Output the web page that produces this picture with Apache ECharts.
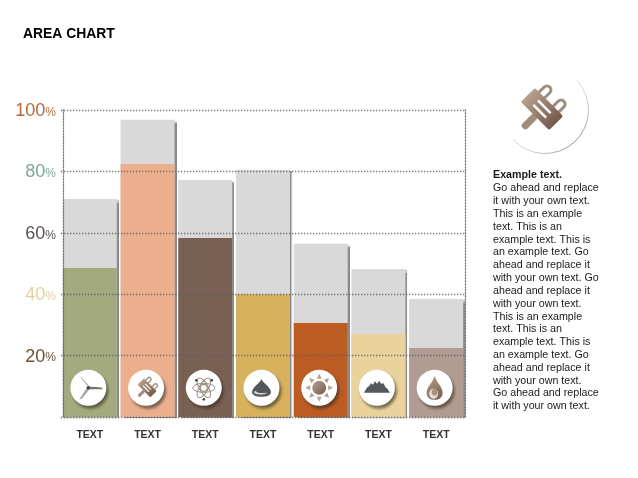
<!DOCTYPE html>
<html>
<head>
<meta charset="utf-8">
<style>
  html, body { margin: 0; padding: 0; background: #fff; }
  #chart { width: 638px; height: 478px; }
</style>
<script src="https://cdn.jsdelivr.net/npm/echarts@6/dist/echarts.min.js"></script>
</head>
<body>
<div id="chart"></div>
<script>
// chart data
const categories = ['TEXT', 'TEXT', 'TEXT', 'TEXT', 'TEXT', 'TEXT', 'TEXT'];
const totalValues = [71, 96.8, 77.2, 80.5, 56.4, 48.2, 38.4];
const filledValues = [48.5, 82.4, 58.3, 40, 30.6, 27, 22.5];
const iconLevels = [9.5, 9.5, 9.5, 9.5, 9.5, 9.5, 9.5];
const iconNames = ['wind', 'plug', 'atom', 'oil', 'sun', 'mountain', 'drop'];
const yTicks = [20, 40, 60, 80, 100];
const titleText = 'AREA CHART';
const noteHead = 'Example text.';
const noteLines = [
  'Go ahead and replace', 'it with your own text.', 'This is an example',
  'text. This is an', 'example text. This is', 'an example text. Go',
  'ahead and replace it', 'with your own text. Go', 'ahead and replace it',
  'with your own text.', 'This is an example', 'text. This is an',
  'example text. This is', 'an example text. Go', 'ahead and replace it',
  'with your own text.', 'Go ahead and replace', 'it with your own text.'
];

// colours
const barColors = ['#A3AA7E', '#EBAF8E', '#7A5F53', '#D8B15E', '#BC5B22', '#E9D29C', '#B29C92'];
const tickColors = { 20: '#6A5038', 40: '#E3CFA0', 60: '#5A5350', 80: '#7FA69C', 100: '#B5693A' };
const FONT = '"Liberation Sans", Arial, sans-serif';
const DARK = '#55585A';
const DOTTED = { color: 'rgba(95,95,95,0.85)', type: [1.3, 1.7], width: 1.3 };

function tanGradient(x2, y2) {
  return new echarts.graphic.LinearGradient(0, 0, x2, y2, [
    { offset: 0, color: '#B5A18F' },
    { offset: 1, color: '#75594B' }
  ]);
}

// plug, drawn with handle to the left and turned 45 degrees
function plugGroup(x, y, scale) {
  const loop = { fill: 'none', stroke: '#A18D7C', lineWidth: 3 };
  return {
    type: 'group', x: x, y: y, scaleX: scale, scaleY: scale, rotation: Math.PI / 4,
    children: [
      { type: 'rect', shape: { x: 6, y: -14, width: 15, height: 8, r: 4 }, style: loop },
      { type: 'rect', shape: { x: 6, y: 6, width: 15, height: 8, r: 4 }, style: loop },
      { type: 'rect', shape: { x: -27, y: -3.5, width: 18, height: 7, r: 3 }, style: { fill: '#A18D7C' } },
      { type: 'rect', shape: { x: -10, y: -20, width: 20, height: 40, r: 2 }, style: { fill: tanGradient(0, 1) } },
      { type: 'rect', shape: { x: -4.5, y: -9, width: 2.5, height: 18 }, style: { fill: '#fff' } },
      { type: 'rect', shape: { x: 2, y: -9, width: 2.5, height: 18 }, style: { fill: '#fff' } }
    ]
  };
}

function windIcon() {
  return [
    { type: 'polygon', shape: { points: [[-1, -2], [-9, -12], [-6.5, -10], [1.5, -1]] }, style: { fill: '#A8A69E' } },
    { type: 'polygon', shape: { points: [[1, -1], [8, -0.8], [14, 0], [14, 1.5], [1, 1.5]] }, style: { fill: '#77736C' } },
    { type: 'polygon', shape: { points: [[-1.5, 0], [1, 1.5], [-6.5, 11], [-9, 11.5]] }, style: { fill: '#A8A69E' } },
    { type: 'circle', shape: { cx: 0, cy: 0, r: 1.8 }, style: { fill: '#444' } }
  ];
}

function atomIcon() {
  const ring = { fill: 'none', stroke: '#9A8D80', lineWidth: 1 };
  const list = [0, 60, 120].map(deg => ({
    type: 'ellipse', rotation: deg * Math.PI / 180,
    shape: { cx: 0, cy: 0, rx: 11, ry: 4.5 }, style: ring
  }));
  list.push({ type: 'circle', shape: { cx: 0, cy: 0, r: 3.5 }, style: { fill: '#fff', stroke: '#9A8D80', lineWidth: 1.2 } });
  [[-7.5, -7.5], [8, -7.5], [0, 11.5]].forEach(p => {
    list.push({ type: 'circle', shape: { cx: p[0], cy: p[1], r: 1.3 }, style: { fill: '#444' } });
  });
  return list;
}

function oilIcon() {
  return [
    {
      type: 'path',
      shape: {
        pathData: 'M0,-14 C2,-8 13,-3 14,5 C14,10 7,12 0,12 C-7,12 -14,10 -14,5 C-13,-3 -2,-8 0,-14Z',
        x: -9.5, y: -9, width: 19, height: 18
      },
      style: { fill: DARK }
    },
    { type: 'ellipse', shape: { cx: -1, cy: 4.5, rx: 6.5, ry: 2.3 }, style: { fill: '#D9CFC4' } },
    { type: 'ellipse', shape: { cx: 1, cy: 3.3, rx: 6.5, ry: 1.9 }, style: { fill: DARK } }
  ];
}

function sunIcon() {
  const list = [{ type: 'circle', shape: { cx: 0, cy: 0, r: 7 }, style: { fill: tanGradient(1, 1) } }];
  for (let i = 0; i < 8; i++) {
    list.push({
      type: 'polygon', rotation: i * Math.PI / 4,
      shape: { points: [[-2.5, -9], [2.5, -9], [0, -14]] },
      style: { fill: '#B3A294' }
    });
  }
  return list;
}

function mountainIcon() {
  return [{
    type: 'polygon',
    shape: {
      points: [[-13, 5], [-10, 0], [-7.5, -2], [-6, -4.5], [-4, -3], [-2, -6.5], [0, -4], [2.5, -7],
        [4, -4], [6.5, -4.5], [9, 0], [10.5, 1], [13, 5]]
    },
    style: { fill: DARK }
  }];
}

function dropIcon() {
  return [
    {
      type: 'path',
      shape: {
        pathData: 'M0,-15 C2,-7 10,-1 10,6 C10,12 5,15 0,15 C-5,15 -10,12 -10,6 C-10,-1 -2,-7 0,-15Z',
        x: -8, y: -12, width: 16, height: 24
      },
      style: { fill: tanGradient(1, 1) }
    },
    { type: 'ellipse', shape: { cx: -1, cy: 6, rx: 4.5, ry: 5 }, style: { fill: '#E4DBD2' } },
    { type: 'ellipse', shape: { cx: 0, cy: 4.5, rx: 3, ry: 3.5 }, style: { fill: '#A8927F' } }
  ];
}

const iconBuilders = {
  wind: windIcon,
  plug: () => [plugGroup(1, 0, 0.45)],
  atom: atomIcon,
  oil: oilIcon,
  sun: sunIcon,
  mountain: mountainIcon,
  drop: dropIcon
};

function renderIcon(params, api) {
  const pos = api.coord([api.value(0), api.value(1)]);
  return {
    type: 'group', x: pos[0] - 1.5, y: pos[1],
    children: [{
      type: 'circle', shape: { cx: 0, cy: 0, r: 18 },
      style: { fill: '#fff', shadowBlur: 3, shadowOffsetX: 2, shadowOffsetY: 3, shadowColor: 'rgba(50,40,30,0.6)' }
    }].concat(iconBuilders[iconNames[params.dataIndex]]())
  };
}

const tickRich = {};
yTicks.forEach(t => {
  tickRich['n' + t] = { fontSize: 18, color: tickColors[t], fontFamily: FONT, padding: [2, 0, 0, 0] };
  tickRich['p' + t] = { fontSize: 12, color: tickColors[t], fontFamily: FONT, padding: [5, 0, 0, 0] };
});

const chart = echarts.init(document.getElementById('chart'), null, { renderer: 'canvas' });

chart.setOption({
  animation: false,
  backgroundColor: '#fff',
  title: {
    text: titleText, left: 23, top: 27, padding: 0,
    textStyle: { fontFamily: FONT, fontSize: 13.9, fontWeight: 'bold', color: '#000' }
  },
  grid: { left: 61, top: 110, width: 404, height: 307 },
  xAxis: {
    type: 'category', data: categories,
    axisLine: { show: false }, axisTick: { show: false },
    axisLabel: { fontFamily: FONT, fontSize: 10.5, fontWeight: 'bold', color: '#333', margin: 13, interval: 0 }
  },
  yAxis: [
    {
      type: 'value', min: 0, max: 100, interval: 20, z: 4, offset: -2,
      axisLine: { show: true, lineStyle: DOTTED },
      axisTick: { show: false },
      splitLine: { show: true, lineStyle: DOTTED },
      axisLabel: {
        margin: 7,
        formatter: v => (v ? `{n${v}|${v}}{p${v}|%}` : ''),
        rich: tickRich
      }
    },
    {
      type: 'value', min: 0, max: 100, interval: 20, position: 'right', z: 4,
      axisLine: { show: true, lineStyle: DOTTED },
      axisTick: { show: false }, axisLabel: { show: false }, splitLine: { show: false }
    }
  ],
  series: [
    {
      type: 'bar', data: totalValues, barWidth: 54, barGap: '-100%', z: 2,
      itemStyle: { color: '#D9D9D9', shadowBlur: 1, shadowOffsetX: 2, shadowOffsetY: 1, shadowColor: '#8A8A8A' }
    },
    {
      type: 'bar', data: filledValues.map((v, i) => ({ value: v, itemStyle: { color: barColors[i] } })),
      barWidth: 54, barGap: '-100%', z: 3
    },
    {
      type: 'custom', z: 5, renderItem: renderIcon,
      data: iconLevels.map((v, i) => [i, v]),
      encode: { x: 0, y: 1 }
    }
  ],
  graphic: [
    {
      type: 'arc', x: 545, y: 110, silent: true,
      shape: { cx: 0, cy: 0, r: 43.5, startAngle: -0.74, endAngle: 2.4 },
      style: {
        fill: 'none', lineWidth: 1,
        stroke: new echarts.graphic.LinearGradient(1, 0, 0, 1, [
          { offset: 0, color: '#EDEDED' },
          { offset: 0.5, color: '#8C8C8C' },
          { offset: 1, color: '#EDEDED' }
        ])
      }
    },
    plugGroup(542, 109, 1),
    {
      type: 'text', x: 493, y: 170,
      style: {
        text: noteHead, font: 'bold 10.7px ' + FONT, fill: '#1A1A1A'
      }
    },
    {
      type: 'text', x: 493, y: 182,
      style: {
        text: noteLines.join('\n'), font: '10.7px ' + FONT, fill: '#1A1A1A', lineHeight: 12.82
      }
    }
  ]
});
</script>
</body>
</html>
